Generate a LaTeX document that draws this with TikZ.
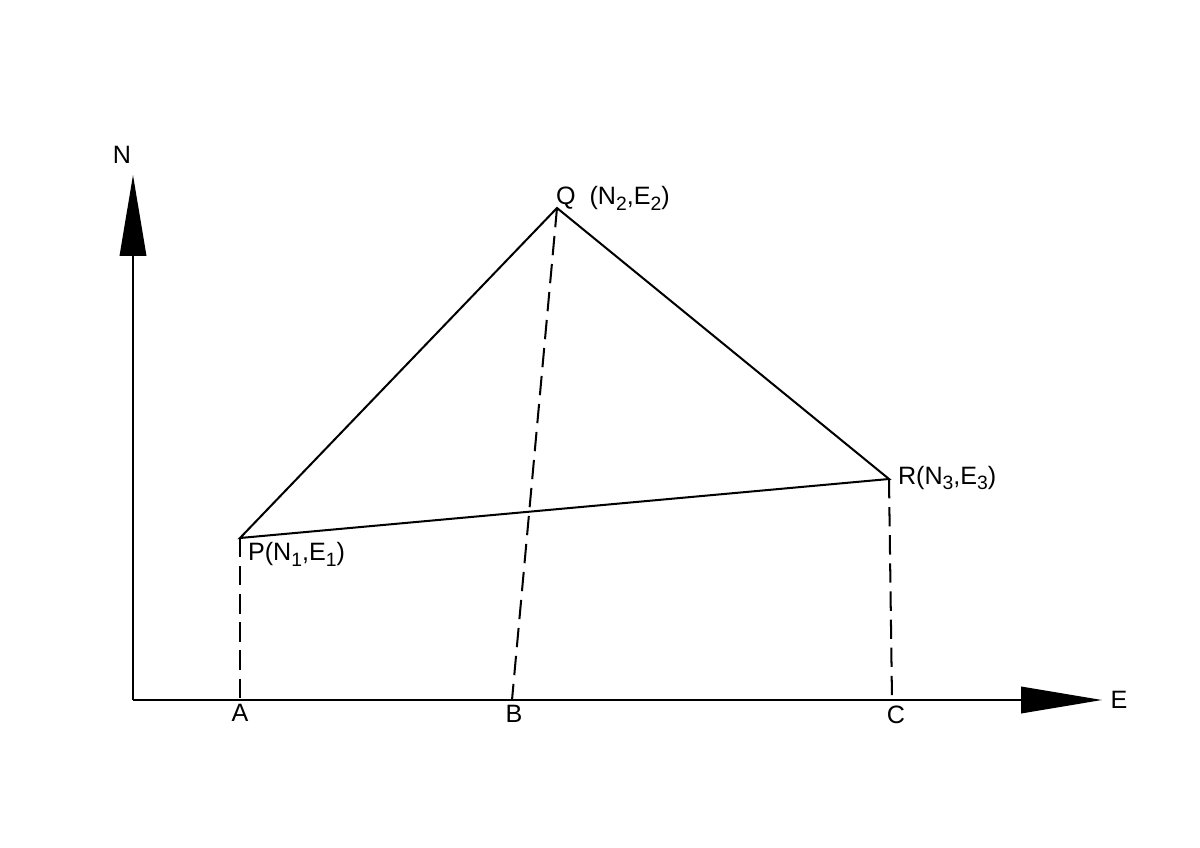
\documentclass[tikz,border=0pt]{standalone}
\usepackage{fontspec}
\setmainfont{Liberation Sans}
\usetikzlibrary{arrows.meta}
\newcommand\mysub[1]{\raisebox{-0.45ex}{\fontsize{11}{12}\selectfont #1}}
\begin{document}
\begin{tikzpicture}[x=0.02cm,y=-0.02cm,
  line width=1.15pt,
  dashline/.style={line width=1.15pt,dash pattern=on 11pt off 5pt},
  axisarrow/.style={-{Triangle[length=1.62cm,width=0.53cm]}},
  lbl/.style={inner sep=0pt,font=\fontsize{14.3}{16}\selectfont}]
\useasboundingbox (0,0) rectangle (1200,848);
\coordinate (O) at (133,700);
\coordinate (Ntop) at (133,175);
\coordinate (Eend) at (1102,700);
\coordinate (P) at (240,538);
\coordinate (Q) at (557,208);
\coordinate (R) at (889,479);
\coordinate (A) at (240,700);
\coordinate (B) at (512,700);
\coordinate (C) at (892,700);
\draw[axisarrow] (O) -- (Ntop);
\draw[axisarrow] (O) -- (Eend);
\draw (P) -- (Q) -- (R) -- cycle;
\draw[dashline] (P) -- (A);
\draw[dashline] (Q) -- (B);
\draw[dashline] (R) -- (C);
\node[lbl] (nN) at (122,155) {N};
\node[lbl] (nE) at (1119,700) {E};
\node[lbl] (nA) at (240,713) {A};
\node[lbl] (nB) at (514,714) {B};
\node[lbl] (nC) at (896,715) {C};
\node[lbl,anchor=west] (nQ) at (555,198) {Q\ \ (N\mysub{2},E\mysub{2})};
\node[lbl,anchor=west] (nR) at (897,478) {R(N\mysub{3},E\mysub{3})};
\node[lbl,anchor=west] (nP) at (247,554) {P(N\mysub{1},E\mysub{1})};
\end{tikzpicture}
\end{document}
